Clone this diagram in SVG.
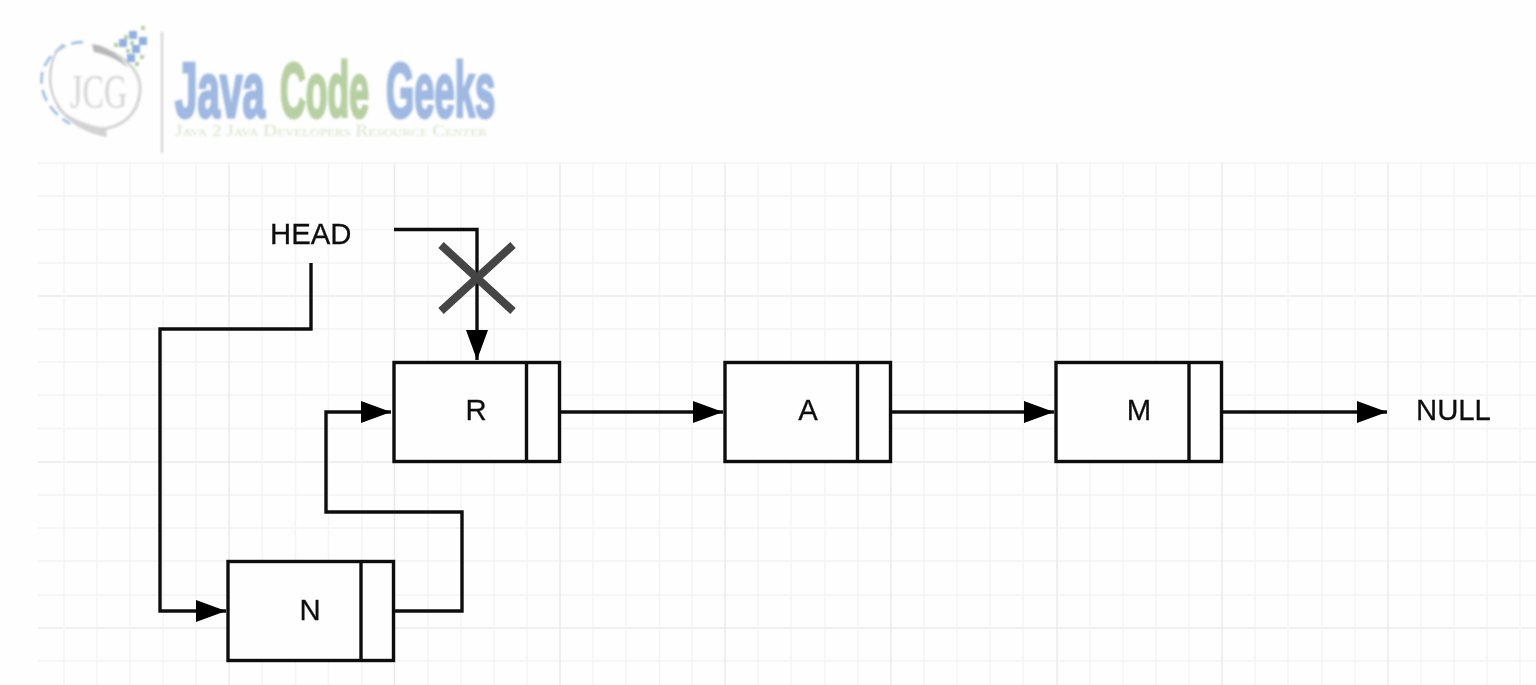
<svg xmlns="http://www.w3.org/2000/svg" width="1536" height="685" viewBox="0 0 1536 685">
  <style>
    .minor { stroke: #f4f4f4; stroke-width: 1.4; fill: none; }
    .major { stroke: #ebebeb; stroke-width: 1.6; fill: none; }
    .box { fill: #fefefe; stroke: #111; stroke-width: 3.4; }
    .div { stroke: #111; stroke-width: 3.4; fill: none; }
    .conn { stroke: #111; stroke-width: 3.4; fill: none; }
    .arrow { marker-end: url(#ah); }
    .lbl { font-family: "Liberation Sans", Arial, sans-serif; font-size: 29.300px; fill: #111; stroke: #111; stroke-width: 0.3; }
    .mid { text-anchor: middle; }
    .logo { font-family: "Liberation Sans", Arial, sans-serif; font-weight: bold; font-size: 78px; stroke-width: 3; }
    .blue { fill: #9fb9e2; stroke: #9fb9e2; }
    .green { fill: #b7d0a2; stroke: #b7d0a2; }
    .sq { fill: #8fb0e0; }
    .gr { fill: #b5d19f; }
  </style>
  <defs>
    <marker id="ah" markerUnits="userSpaceOnUse" markerWidth="32" markerHeight="24" refX="30" refY="11" orient="auto">
      <path d="M0 0 L30 11 L0 22 Z" fill="#000"/>
    </marker>
    <filter id="soft" x="-5%" y="-5%" width="110%" height="110%"><feGaussianBlur stdDeviation="0.5"/></filter>
    <filter id="softer" x="-5%" y="-5%" width="110%" height="110%"><feGaussianBlur stdDeviation="0.9"/></filter>
  </defs>
  <rect width="1536" height="685" fill="#fefefe"/>

  <g id="logo" filter="url(#softer)">
    <path d="M83 42 C62 42 46 56 42 74 C39 94 50 112 70 124" fill="none" stroke="#9dbbe6" stroke-width="2.5" stroke-dasharray="12 6"/>
    <path d="M63 44 C49 56 46 84 56 102 C62 114 72 122 84 127" fill="none" stroke="#c9c9c9" stroke-width="2.2"/>
    <path d="M93 47 C122 52 142 70 140 92 C138 114 122 128 100 129" fill="none" stroke="#d4d4d4" stroke-width="3"/>
    <path d="M92 44 C108 46 120 56 128 68 C116 58 104 54 94 52 Z" fill="#b8b8b8"/>
    <path d="M56 106 C68 124 88 134 107 137 L106 128 C88 126 70 118 56 106 Z" fill="#d2d2d2"/>
    <text transform="translate(70 108) scale(0.67 1)" font-family="'Liberation Serif', serif" font-size="48" fill="#d6d6d6">JCG</text>
    <rect class="sq" x="129" y="31" width="8" height="8"/>
    <rect class="sq" x="139" y="37" width="8" height="8"/>
    <rect class="sq" x="119" y="39" width="8" height="8"/>
    <rect class="sq" x="132" y="45" width="8" height="8"/>
    <rect class="sq" x="127" y="54" width="8" height="8"/>
    <rect class="gr" x="141" y="26" width="4" height="4"/>
    <rect class="gr" x="124" y="35" width="4" height="4"/>
    <rect class="gr" x="114" y="43" width="4" height="4"/>
    <rect class="gr" x="130" y="41" width="4" height="4"/>
    <rect class="gr" x="126" y="49" width="4" height="4"/>
    <rect class="gr" x="140" y="55" width="4" height="4"/>
    <rect class="gr" x="135" y="62" width="4" height="4"/>
    <line x1="162" y1="32" x2="162" y2="153" stroke="#c4c4c4" stroke-width="1.6"/>
    <text class="logo blue" transform="translate(175 117) scale(0.519 1)">Java</text>
    <text class="logo green" transform="translate(280 117) scale(0.456 1)">Code</text>
    <text class="logo blue" transform="translate(386 117) scale(0.466 1)">Geeks</text>
    <text x="175" y="136" font-family="'Liberation Serif', serif" font-size="16" font-variant="small-caps" fill="#d6e5c8" textLength="312" lengthAdjust="spacingAndGlyphs">Java 2 Java Developers Resource Center</text>
  </g>

  <g id="grid">
    <path class="minor" d="M38 163H1536M38 196H1536M38 229.500H1536M38 263H1536M38 329H1536M38 362H1536M38 395H1536M38 428.500H1536M38 495H1536M38 528H1536M38 561H1536M38 595H1536M38 661H1536"/>
    <path class="major" d="M38 296H1536M38 462H1536M38 628H1536"/>
    <path class="minor" d="M64 163V685M97 163V685M130 163V685M163 163V685M196 163V685M262 163V685M295.500 163V685M328.500 163V685M362 163V685M428 163V685M461 163V685M494 163V685M527 163V685M593 163V685M626 163V685M659.500 163V685M692 163V685M758 163V685M791 163V685M825 163V685M858 163V685M924 163V685M957 163V685M990 163V685M1023 163V685M1090 163V685M1123 163V685M1156 163V685M1189 163V685M1255 163V685M1288 163V685M1322 163V685M1355 163V685M1421 163V685M1454 163V685M1487 163V685M1520 163V685"/>
    <path class="major" d="M229 163V685M394.500 163V685M560 163V685M725 163V685M891 163V685M1057 163V685M1222 163V685M1388 163V685"/>
  </g>

  <g id="diagram" filter="url(#soft)">
    <g id="connectors">
      <path class="conn arrow" d="M394 229.500H477V360"/>
      <path class="conn arrow" d="M311 263V329H160V611H226"/>
      <path class="conn arrow" d="M394 611H462V512H326V412H391"/>
      <path class="conn arrow" d="M560 412H723"/>
      <path class="conn arrow" d="M891 412H1054"/>
      <path class="conn arrow" d="M1222 412H1387"/>
    </g>
    <g id="cross">
      <path d="M441 245L513 311M513 245L441 311" stroke="#444" stroke-width="8" fill="none"/>
    </g>
    <g id="node-head"><text class="lbl" x="270" y="244">HEAD</text></g>
    <g id="node-r">
      <rect class="box" x="394" y="362.500" width="165.500" height="99"/>
      <line class="div" x1="526.500" y1="362.500" x2="526.500" y2="461.500"/>
      <text class="lbl mid" x="476" y="420">R</text>
    </g>
    <g id="node-a">
      <rect class="box" x="725" y="362.500" width="165.500" height="99"/>
      <line class="div" x1="857.500" y1="362.500" x2="857.500" y2="461.500"/>
      <text class="lbl mid" x="808" y="420">A</text>
    </g>
    <g id="node-m">
      <rect class="box" x="1056" y="362.500" width="165.500" height="99"/>
      <line class="div" x1="1189" y1="362.500" x2="1189" y2="461.500"/>
      <text class="lbl mid" x="1139" y="420">M</text>
    </g>
    <g id="node-n">
      <rect class="box" x="228" y="561.500" width="165.500" height="99"/>
      <line class="div" x1="361" y1="561.500" x2="361" y2="660.500"/>
      <text class="lbl mid" x="310" y="620">N</text>
    </g>
    <g id="node-null"><text class="lbl" x="1416" y="420">NULL</text></g>
  </g>
</svg>
